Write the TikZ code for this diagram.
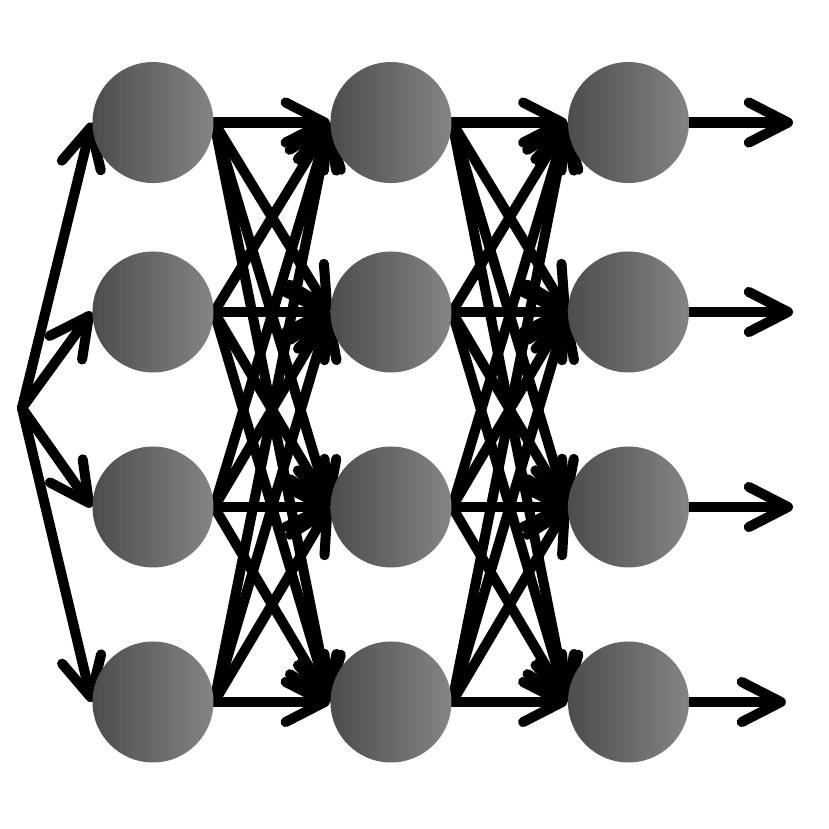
\documentclass[tikz,border=0pt]{standalone}
\usetikzlibrary{arrows.meta,backgrounds}
\tikzset{
  neuron/.style={circle,minimum size=1.267cm,inner sep=0pt,
    left color=black!70,right color=black!48},
  link/.style={line width=3pt,line cap=round,line join=round,
    -{Straight Barb[round,length=0.41cm,width=0.42cm]}}
}
\begin{document}
\begin{tikzpicture}
  \useasboundingbox (0,0) rectangle (8.681,8.681);
  % three layers of four neurons
  \foreach \y [count=\r] in {7.398,5.414,3.372,1.330} {
    \node[neuron] (a\r) at (1.602,\y) {};
    \node[neuron] (b\r) at (4.094,\y) {};
    \node[neuron] (c\r) at (6.581,\y) {};
  }
  \coordinate (in) at (0.230,4.408); % input
  \coordinate (o1) at (8.304,7.398);
  \coordinate (o2) at (8.304,5.414);
  \coordinate (o3) at (8.304,3.372);
  \coordinate (o4) at (8.230,1.330);
  \begin{scope}[on background layer]
    \foreach \i in {1,...,4} {
      \draw[link] (in) -- (a\i.west);
      \draw[link] (c\i.east) -- (o\i); % outputs
      \foreach \j in {1,...,4} {
        \draw[link] (a\i.east) -- (b\j.west);
        \draw[link] (b\i.east) -- (c\j.west);
      }
    }
  \end{scope}
\end{tikzpicture}
\end{document}
